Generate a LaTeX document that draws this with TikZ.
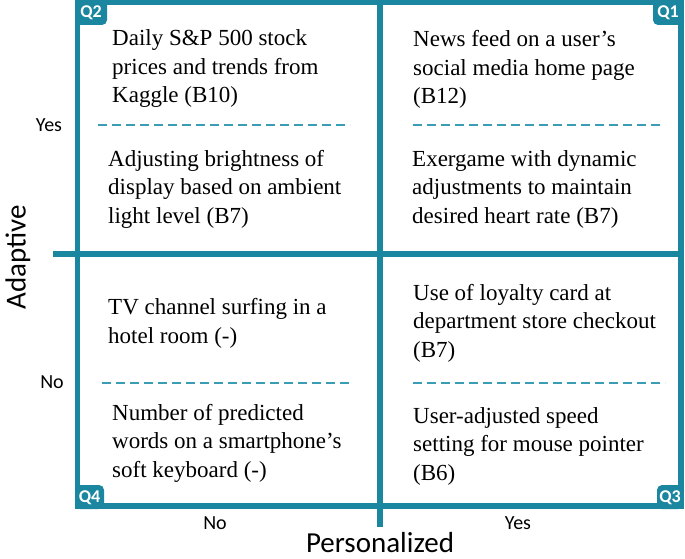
\documentclass[tikz,border=0pt]{standalone}
\usepackage{fontspec}
\setmainfont{Liberation Serif}
\newfontfamily\calib{Carlito}
\definecolor{teal1}{HTML}{1A86A0}
\definecolor{teal2}{HTML}{3A9DB5}
\tikzset{
  frameline/.style={draw=teal1, line width=5.5pt},
  sepline/.style={draw=teal2, line width=1.8pt, dash pattern=on 9pt off 5pt},
  body/.style={anchor=base west, inner sep=0pt, align=left, font=\fontsize{23}{28.5}\selectfont},
  tab/.style={fill=teal1},
  tablabel/.style={text=white, font=\calib\bfseries\fontsize{18}{18}\selectfont, inner sep=0pt},
  axlabel/.style={font=\calib\fontsize{20}{20}\selectfont, inner sep=0pt},
  axtitle/.style={font=\calib\fontsize{29}{29}\selectfont, inner sep=0pt}
}
\begin{document}
\begin{tikzpicture}[x=1pt,y=-1pt]
\useasboundingbox (0,0) rectangle (685,559);
% frame and dividers
\draw[frameline] (77.5,2.5) rectangle (681,506);
\draw[frameline] (380,2.5) -- (380,527);
\draw[frameline] (53,254) -- (681,254);
% tabs (one rounded corner each)
\fill[tab, rounded corners=5pt] (75,0) rectangle (107,25);
\fill[tab] (75,0) rectangle (100,25);
\fill[tab] (75,0) rectangle (107,18);
\fill[tab, rounded corners=5pt] (653,0) rectangle (683,25);
\fill[tab] (660,0) rectangle (683,25);
\fill[tab] (653,0) rectangle (683,18);
\fill[tab, rounded corners=5pt] (75,485) rectangle (104,509);
\fill[tab] (75,485) rectangle (97,509);
\fill[tab] (75,492) rectangle (104,509);
\fill[tab, rounded corners=5pt] (657,485) rectangle (683,509);
\fill[tab] (664,485) rectangle (683,509);
\fill[tab] (657,492) rectangle (683,509);
\node[tablabel] (q2) at (91,12.5) {Q2};
\node[tablabel] (q1) at (668,12.5) {Q1};
\node[tablabel] (q4) at (89.5,497.5) {Q4};
\node[tablabel] (q3) at (670,497.5) {Q3};
% Q2
\node[body] (t2a) at (112,103) {Daily S\&P 500 stock\\prices and trends from\\Kaggle (B10)};
\draw[sepline] (98,125) -- (350,125);
\node[body] (t2b) at (108,223) {Adjusting brightness of\\display based on ambient\\light level (B7)};
% Q1
\node[body] (t1a) at (413,104) {News feed on a user’s\\social media home page\\(B12)};
\draw[sepline] (413,125) -- (662,125);
\node[body] (t1b) at (412,223) {Exergame with dynamic\\adjustments to maintain\\desired heart rate (B7)};
% Q4
\node[body] (t4a) at (108,343) {TV channel surfing in a\\hotel room (-)};
\draw[sepline] (102,383) -- (353,383);
\node[body] (t4b) at (112,477) {Number of predicted\\words on a smartphone’s\\soft keyboard (-)};
% Q3
\node[body] (t3a) at (413,357) {Use of loyalty card at\\department store checkout\\(B7)};
\draw[sepline] (413,383) -- (665,383);
\node[body] (t3b) at (413,480) {User-adjusted speed\\setting for mouse pointer\\(B6)};
% axis labels
\node[axlabel] (yesL) at (49,125) {Yes};
\node[axlabel] (noL) at (52,382) {No};
\node[axlabel] (noB) at (215,523) {No};
\node[axlabel] (yesB) at (518,523) {Yes};
\node[axtitle, rotate=90] (adap) at (18,257) {Adaptive};
\node[axtitle, anchor=base] (pers) at (380,552) {Personalized};
\end{tikzpicture}
\end{document}
